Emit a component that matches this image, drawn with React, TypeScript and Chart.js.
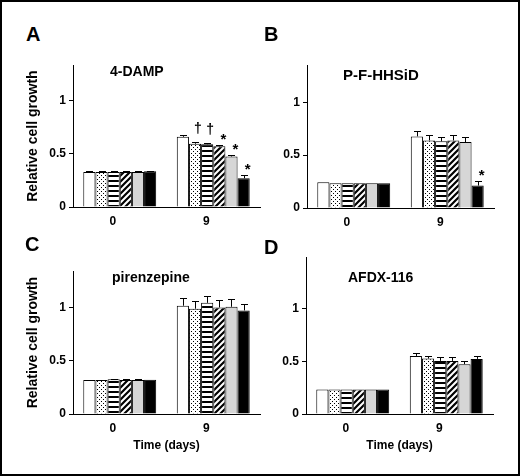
import React, { useEffect, useRef } from "react";
import { Chart, registerables } from "chart.js";

Chart.register(...registerables);

// ---------- data ----------
const days = ["0", "9"];
const yTickValues = [0, 0.5, 1];
const seriesLabels = ["Control", "Dose 1", "Dose 2", "Dose 3", "Dose 4", "Dose 5"];

// Panel A: 4-DAMP
const dampDay0 = [0.33, 0.33, 0.33, 0.33, 0.33, 0.335];
const dampDay9 = [0.66, 0.595, 0.59, 0.57, 0.475, 0.27];
const dampErr0 = [0.004, 0.004, 0.004, 0.004, 0.004, 0.004];
const dampErr9 = [0.02, 0.015, 0.015, 0.015, 0.015, 0.03];
const dampMarks9 = ["", "\u2020", "\u2020", "*", "*", "*"];

// Panel B: P-F-HHSiD
const hhsidDay0 = [0.243, 0.233, 0.233, 0.233, 0.233, 0.233];
const hhsidDay9 = [0.677, 0.639, 0.63, 0.639, 0.623, 0.212];
const hhsidErr0 = [0, 0, 0, 0, 0, 0];
const hhsidErr9 = [0.055, 0.055, 0.045, 0.055, 0.045, 0.047];
const hhsidMarks9 = ["", "", "", "", "", "*"];

// Panel C: pirenzepine
const pirenDay0 = [0.32, 0.32, 0.325, 0.32, 0.32, 0.322];
const pirenDay9 = [1.016, 0.988, 1.043, 1.0, 1.006, 0.972];
const pirenErr0 = [0, 0, 0.006, 0.004, 0.004, 0];
const pirenErr9 = [0.074, 0.074, 0.065, 0.07, 0.07, 0.062];
const pirenMarks9 = ["", "", "", "", "", ""];

// Panel D: AFDX-116
const afdxDay0 = [0.233, 0.233, 0.233, 0.233, 0.233, 0.233];
const afdxDay9 = [0.55, 0.525, 0.503, 0.503, 0.472, 0.522];
const afdxErr0 = [0, 0, 0, 0, 0, 0];
const afdxErr9 = [0.03, 0.028, 0.037, 0.035, 0.032, 0.03];
const afdxMarks9 = ["", "", "", "", "", ""];

// ---------- styling / layout ----------
const FONT = "'Liberation Sans', Arial, Helvetica, sans-serif";
Chart.defaults.font.family = FONT;

type Rect = { l: number; t: number; r: number; b: number };
type PanelDef = {
  letter: string;
  drug: string;
  day0: number[];
  day9: number[];
  err0: number[];
  err9: number[];
  marks9: string[];
  yMax: number;
  plot: Rect;
  yTitle: boolean;
  xTitle: boolean;
  letterPos: { x: number; y: number };
  drugPos: { x: number; y: number };
  drugSize: number;
};

const panels: PanelDef[] = [
  {
    letter: "A", drug: "4-DAMP",
    day0: dampDay0, day9: dampDay9, err0: dampErr0, err9: dampErr9, marks9: dampMarks9,
    yMax: 1.333, plot: { l: 73, t: 63, r: 260, b: 207 },
    yTitle: true, xTitle: false,
    letterPos: { x: 26, y: 24 }, drugPos: { x: 110, y: 64 }, drugSize: 14,
  },
  {
    letter: "B", drug: "P-F-HHSiD",
    day0: hhsidDay0, day9: hhsidDay9, err0: hhsidErr0, err9: hhsidErr9, marks9: hhsidMarks9,
    yMax: 1.35, plot: { l: 307, t: 63, r: 494, b: 208 },
    yTitle: false, xTitle: false,
    letterPos: { x: 264, y: 24 }, drugPos: { x: 343, y: 67 }, drugSize: 15,
  },
  {
    letter: "C", drug: "pirenzepine",
    day0: pirenDay0, day9: pirenDay9, err0: pirenErr0, err9: pirenErr9, marks9: pirenMarks9,
    yMax: 1.34, plot: { l: 73, t: 269, r: 260, b: 414 },
    yTitle: true, xTitle: true,
    letterPos: { x: 25, y: 234 }, drugPos: { x: 112, y: 270 }, drugSize: 14,
  },
  {
    letter: "D", drug: "AFDX-116",
    day0: afdxDay0, day9: afdxDay9, err0: afdxErr0, err9: afdxErr9, marks9: afdxMarks9,
    yMax: 1.485, plot: { l: 306, t: 255, r: 493, b: 414 },
    yTitle: false, xTitle: true,
    letterPos: { x: 264, y: 237 }, drugPos: { x: 348, y: 270 }, drugSize: 14,
  },
];

const Y_AXIS_W = 60;
const X_AXIS_H = 50;
const PAD_TOP = 8;
const PAD_RIGHT = 8;

function makePattern(w: number, h: number, draw: (c: CanvasRenderingContext2D) => void): CanvasPattern | string {
  const cv = document.createElement("canvas");
  cv.width = w;
  cv.height = h;
  const c = cv.getContext("2d");
  if (!c) return "#fff";
  c.fillStyle = "#fff";
  c.fillRect(0, 0, w, h);
  c.fillStyle = "#000";
  c.strokeStyle = "#000";
  draw(c);
  return c.createPattern(cv, "repeat") || "#fff";
}

function makeFills(): (CanvasPattern | string)[] {
  const dots = makePattern(4, 4, (c) => {
    c.fillRect(0, 0, 1, 1);
    c.fillRect(2, 2, 1, 1);
  });
  const hlines = makePattern(4, 5, (c) => {
    c.fillRect(0, 0, 4, 2);
  });
  const diag = makePattern(6, 6, (c) => {
    c.lineWidth = 2.2;
    c.beginPath();
    c.moveTo(-1, 7);
    c.lineTo(7, -1);
    c.moveTo(-1, 1);
    c.lineTo(1, -1);
    c.moveTo(5, 7);
    c.lineTo(7, 5);
    c.stroke();
  });
  return ["#ffffff", dots, hlines, diag, "#d6d6d6", "#000000"];
}

const errorBarPlugin = {
  id: "errorBars",
  afterDatasetsDraw(chart: any) {
    const { ctx } = chart;
    const yScale = chart.scales.y;
    ctx.save();
    chart.data.datasets.forEach((ds: any, di: number) => {
      const meta = chart.getDatasetMeta(di);
      meta.data.forEach((el: any, i: number) => {
        const v = ds.data[i] as number;
        const e = (ds.errors && ds.errors[i]) || 0;
        const topPx = yScale.getPixelForValue(v + e);
        const x = Math.round(el.x) + 0.5;
        if (e > 0) {
          ctx.strokeStyle = "#000";
          ctx.lineWidth = 1;
          ctx.beginPath();
          ctx.moveTo(x, el.y);
          ctx.lineTo(x, Math.round(topPx) + 0.5);
          ctx.moveTo(x - 3.5, Math.round(topPx) + 0.5);
          ctx.lineTo(x + 3.5, Math.round(topPx) + 0.5);
          ctx.stroke();
        }
        const mark = ds.marks && ds.marks[i];
        if (mark) {
          ctx.fillStyle = "#000";
          ctx.textAlign = "center";
          ctx.textBaseline = "middle";
          if (mark === "*") {
            ctx.font = `bold 15px ${FONT}`;
            ctx.fillText(mark, el.x + 4, topPx - 5);
          } else {
            ctx.font = `bold 14px ${FONT}`;
            ctx.fillText(mark, el.x + 3, topPx - 13);
          }
        }
      });
    });
    ctx.restore();
  },
};

function Panel({ def }: { def: PanelDef }) {
  const ref = useRef<HTMLCanvasElement>(null);
  const { l, t, r, b } = def.plot;
  const w = r - l + Y_AXIS_W + PAD_RIGHT;
  const h = b - t + PAD_TOP + X_AXIS_H;

  useEffect(() => {
    if (!ref.current) return;
    const fills = makeFills();
    const datasets = fills.map((f, i) => ({
      label: seriesLabels[i],
      data: [def.day0[i], def.day9[i]],
      errors: [def.err0[i], def.err9[i]],
      marks: ["", def.marks9[i]],
      backgroundColor: f,
      borderColor: "#000",
      borderWidth: 1,
      categoryPercentage: 0.78,
      barPercentage: 1,
    }));
    const tickFont = { family: FONT, size: 12, weight: "bold" as const };
    const chart = new Chart(ref.current, {
      type: "bar",
      data: { labels: days, datasets: datasets as any },
      options: {
        responsive: false,
        animation: false,
        layout: { padding: { top: PAD_TOP, right: PAD_RIGHT, left: 0, bottom: 0 } },
        plugins: { legend: { display: false }, tooltip: { enabled: false }, title: { display: false } },
        scales: {
          x: {
            type: "category",
            offset: true,
            grid: { display: false, drawTicks: false, tickLength: 0 },
            border: { display: true, color: "#000", width: 1 },
            ticks: { color: "#000", font: tickFont, padding: 7, labelOffset: -7 },
            title: {
              display: def.xTitle,
              text: "Time (days)",
              color: "#000",
              font: { family: FONT, size: 12, weight: "bold" },
              padding: { top: 0, bottom: 11 },
            },
            afterFit: (s: any) => {
              s.height = X_AXIS_H;
            },
          },
          y: {
            type: "linear",
            min: 0,
            max: def.yMax,
            afterBuildTicks: (s: any) => {
              s.ticks = yTickValues.map((v) => ({ value: v }));
            },
            grid: { display: true, drawOnChartArea: false, drawTicks: true, tickLength: 4, color: "#000" },
            border: { display: true, color: "#000", width: 1 },
            ticks: { color: "#000", font: tickFont, padding: 3, callback: (v: any) => String(v) },
            title: {
              display: def.yTitle,
              text: "Relative cell growth",
              color: "#000",
              font: { family: FONT, size: 14, weight: "bold" },
              padding: { top: 12, bottom: 0 },
            },
            afterFit: (s: any) => {
              s.width = Y_AXIS_W;
            },
          },
        },
      },
      plugins: [errorBarPlugin],
    });
    return () => chart.destroy();
  }, []);

  return (
    <canvas
      ref={ref}
      width={w}
      height={h}
      style={{ position: "absolute", left: l - Y_AXIS_W, top: t - PAD_TOP, width: w, height: h }}
    />
  );
}

export default function App() {
  return (
    <div
      style={{
        position: "absolute",
        left: 0,
        top: 0,
        width: 520,
        height: 476,
        background: "#fff",
        overflow: "hidden",
        fontFamily: FONT,
        color: "#000",
      }}
    >
      {panels.map((p) => (
        <Panel key={p.letter} def={p} />
      ))}
      {panels.map((p) => (
        <div
          key={"L" + p.letter}
          style={{
            position: "absolute",
            left: p.letterPos.x,
            top: p.letterPos.y,
            fontSize: 20,
            lineHeight: "20px",
            fontWeight: "bold",
            whiteSpace: "nowrap",
          }}
        >
          {p.letter}
        </div>
      ))}
      {panels.map((p) => (
        <div
          key={"T" + p.letter}
          style={{
            position: "absolute",
            left: p.drugPos.x,
            top: p.drugPos.y,
            fontSize: p.drugSize,
            lineHeight: p.drugSize + "px",
            fontWeight: "bold",
            whiteSpace: "nowrap",
          }}
        >
          {p.drug}
        </div>
      ))}
      <div
        style={{
          position: "absolute",
          left: 0,
          top: 0,
          width: 520,
          height: 476,
          boxSizing: "border-box",
          border: "2px solid #000",
          pointerEvents: "none",
        }}
      />
    </div>
  );
}
